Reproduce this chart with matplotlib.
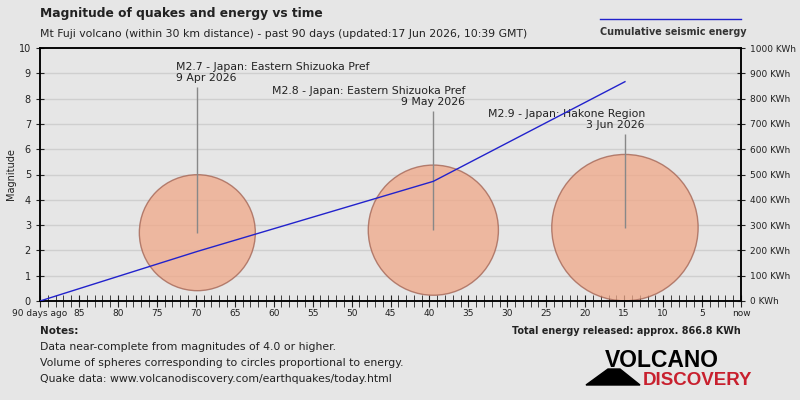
import numpy as np
import matplotlib.pyplot as plt
from matplotlib.patches import Polygon

plt.rcParams["font.family"] = "DejaVu Sans"

# quake data (days before "now")
quake_days = [69.8, 39.5, 14.9]
quake_mags = [2.7, 2.8, 2.9]
quake_energy = [196.0, 277.0, 393.8]  # KWh
quake_labels = ["M2.7 - Japan: Eastern Shizuoka Pref\n9 Apr 2026",
                "M2.8 - Japan: Eastern Shizuoka Pref\n9 May 2026",
                "M2.9 - Japan: Hakone Region\n3 Jun 2026"]
label_tops = [8.45, 7.5, 6.6]

# cumulative energy curve
cum_days = [90] + quake_days
cum_energy = [0] + list(np.cumsum(quake_energy))

bg = "#e6e6e6"
txt = "#222222"

fig = plt.figure(figsize=(8, 4), dpi=100, facecolor=bg)
ax = fig.add_axes([0.05, 0.2475, 0.87625, 0.6325], facecolor=bg)

# x axis runs from 90 days ago (left) to now (right)
ax.set_xlim(90, 0)
ax.set_ylim(0, 10)

# grid
for m in range(1, 10):
    ax.axhline(m, color="#cfcfcf", lw=1, zorder=0)

# circles: volume proportional to energy
r1 = 58.0
radii = [r1 * (e / quake_energy[0]) ** (1 / 3) for e in quake_energy]
sizes = [(2 * r * 0.72) ** 2 for r in radii]
ax.scatter(quake_days, quake_mags, s=sizes, facecolor="#f0a888", alpha=0.75,
           edgecolor="#a06050", linewidth=1, zorder=2)

# stems + labels
ax.vlines(quake_days, quake_mags, label_tops, color="#888888", lw=1, zorder=3)
aligns = ["left", "right", "right"]
offsets = [-21, 32, 20]
for d, top, lab, ha, off in zip(quake_days, label_tops, quake_labels, aligns, offsets):
    ax.annotate(lab, (d, top), xytext=(off, 4), textcoords="offset pixels",
                ha=ha, va="bottom", fontsize=7.85, color=txt, linespacing=1.1,
                multialignment=ha)

# energy on right axis
ax2 = ax.twinx()
ax2.set_ylim(0, 1000)
ax2.plot(cum_days, cum_energy, color="#2222cc", lw=1, zorder=4)

# ticks
ax.set_yticks(range(0, 11))
ax.tick_params(axis="y", direction="inout", length=6, labelsize=7, colors=txt)
ax.set_ylabel("Magnitude", fontsize=7, color=txt, labelpad=2)
ax.set_xticks(np.arange(90, -1, -5))
ax.set_xticklabels(["90 days ago"] + [str(v) for v in range(85, 0, -5)] + ["now"])
ax.set_xticks(np.arange(90, -1, -1), minor=True)
ax.tick_params(axis="x", which="both", direction="inout", length=8, labelsize=6.5,
               colors=txt, pad=2)
ax2.set_yticks(range(0, 1001, 100))
ax2.set_yticklabels([f"{v} KWh" for v in range(0, 1001, 100)])
ax2.tick_params(axis="y", direction="inout", length=6, labelsize=6.5, colors=txt)
for a in (ax, ax2):
    for s in a.spines.values():
        s.set_linewidth(1.1)

# titles
fig.text(0.05, 0.965, "Magnitude of quakes and energy vs time", fontsize=8.8,
         fontweight="bold", color=txt, va="center")
fig.text(0.05, 0.915, "Mt Fuji volcano (within 30 km distance) - past 90 days "
         "(updated:17 Jun 2026, 10:39 GMT)", fontsize=7.85, color=txt, va="center")

# legend
fig.add_artist(plt.Line2D([0.75, 0.92625], [0.9525, 0.9525], color="#2222cc", lw=1))
fig.text(0.75, 0.92, "Cumulative seismic energy", fontsize=6.9, fontweight="bold",
         color="#333333", va="center")

# notes
fig.text(0.05, 0.172, "Notes:", fontsize=7.5, fontweight="bold", color=txt, va="center")
notes = ["Data near-complete from magnitudes of 4.0 or higher.",
         "Volume of spheres corresponding to circles proportional to energy.",
         "Quake data: www.volcanodiscovery.com/earthquakes/today.html"]
for i, n in enumerate(notes):
    fig.text(0.05, 0.132 - i * 0.04, n, fontsize=7.8, color=txt, va="center")
fig.text(0.92625, 0.172, f"Total energy released: approx. {cum_energy[-1]:.1f} KWh",
         fontsize=6.95, fontweight="bold", color=txt, va="center", ha="right")

# logo
fig.text(0.7563, 0.0825, "VOLCANO", fontsize=16.5, fontweight="bold", color="black",
         family="Liberation Sans", va="baseline", ha="left")
fig.text(0.8038, 0.0375, "DISCOVERY", fontsize=13.5, fontweight="bold", color="#c8202e",
         family="Liberation Sans", va="baseline", ha="left")
fig.add_artist(Polygon([[0.7325, 0.0375], [0.8, 0.0375], [0.775, 0.0775], [0.76, 0.0775]],
                       closed=True, color="black", transform=fig.transFigure))

fig.savefig("out.png", dpi=100, facecolor=bg)
